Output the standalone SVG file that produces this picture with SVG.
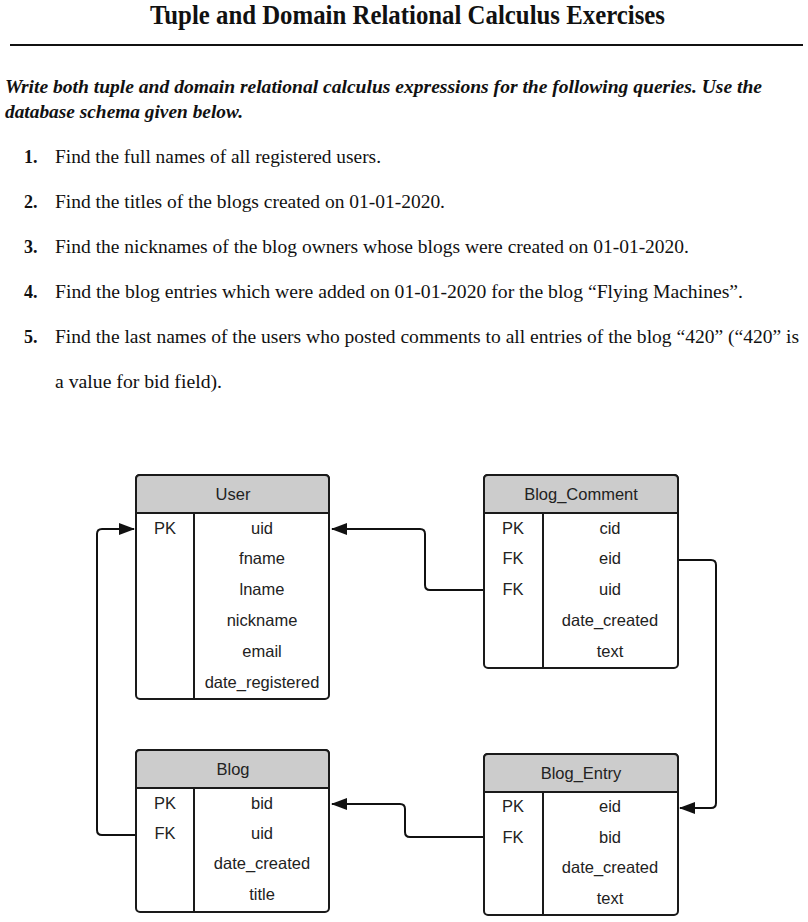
<svg xmlns="http://www.w3.org/2000/svg" width="808" height="922" viewBox="0 0 808 922">
<style>
.title{font-family:"Liberation Serif","Times New Roman",serif;font-weight:bold;font-size:27px;fill:#111}
.intro{font-family:"Liberation Serif","Times New Roman",serif;font-weight:bold;font-style:italic;font-size:18px;fill:#111}
.item{font-family:"Liberation Serif","Times New Roman",serif;font-size:18px;fill:#111}
.num{font-family:"Liberation Serif","Times New Roman",serif;font-weight:bold;font-size:18px;fill:#111}
.box{fill:#fff;stroke:#1a1a1a;stroke-width:2}
.hdr{fill:#cccccc;stroke:#1a1a1a;stroke-width:2}
.ln{stroke:#1a1a1a;stroke-width:2;fill:none}
.t{font-family:"Liberation Sans",Arial,sans-serif;font-size:16.5px;fill:#222;text-anchor:middle}
.conn{fill:none;stroke:#111;stroke-width:2}
</style>
<defs>
<marker id="arr" markerUnits="userSpaceOnUse" markerWidth="16" markerHeight="12" refX="15" refY="6" orient="auto">
<path d="M0,0 L16,6 L0,12 z" fill="#111"/>
</marker>
</defs>
<rect width="808" height="922" fill="#fff"/>
<text class="title" x="150" y="24" textLength="515" lengthAdjust="spacingAndGlyphs">Tuple and Domain Relational Calculus Exercises</text>
<line x1="10" y1="45" x2="803" y2="45" stroke="#111" stroke-width="2"/>
<text class="intro" x="5" y="93" textLength="757" lengthAdjust="spacingAndGlyphs">Write both tuple and domain relational calculus expressions for the following queries. Use the</text>
<text class="intro" x="5" y="118" textLength="238" lengthAdjust="spacingAndGlyphs">database schema given below.</text>
<text class="num" x="24" y="163">1.</text>
<text class="item" x="55" y="163" textLength="326" lengthAdjust="spacingAndGlyphs">Find the full names of all registered users.</text>
<text class="num" x="24" y="208">2.</text>
<text class="item" x="55" y="208" textLength="390" lengthAdjust="spacingAndGlyphs">Find the titles of the blogs created on 01-01-2020.</text>
<text class="num" x="24" y="253">3.</text>
<text class="item" x="55" y="253" textLength="634" lengthAdjust="spacingAndGlyphs">Find the nicknames of the blog owners whose blogs were created on 01-01-2020.</text>
<text class="num" x="24" y="298">4.</text>
<text class="item" x="55" y="298" textLength="688" lengthAdjust="spacingAndGlyphs">Find the blog entries which were added on 01-01-2020 for the blog “Flying Machines”.</text>
<text class="num" x="24" y="343">5.</text>
<text class="item" x="55" y="343" textLength="744" lengthAdjust="spacingAndGlyphs">Find the last names of the users who posted comments to all entries of the blog “420” (“420” is</text>
<text class="item" x="55" y="388" textLength="167" lengthAdjust="spacingAndGlyphs">a value for bid field).</text>

<g id="connectors">
<path class="conn" d="M136,835 H102 Q97,835 97,830 V534 Q97,529 102,529 H134" marker-end="url(#arr)"/>
<path class="conn" d="M484,590 H430 Q425,590 425,585 V534 Q425,529 420,529 H332" marker-end="url(#arr)"/>
<path class="conn" d="M678,560 H711 Q716,560 716,565 V803 Q716,808 711,808 H680" marker-end="url(#arr)"/>
<path class="conn" d="M484,837 H410 Q405,837 405,832 V809 Q405,804 400,804 H332" marker-end="url(#arr)"/>
</g>

<g id="user">
<rect class="box" x="136" y="475" width="193" height="224" rx="4"/>
<path class="hdr" d="M136,513 V479 Q136,475 140,475 H325 Q329,475 329,479 V513 Z"/>
<line class="ln" x1="194" y1="513" x2="194" y2="699"/>
<text class="t" x="233" y="500">User</text>
<text class="t" x="165" y="534">PK</text>
<text class="t" x="262" y="534">uid</text>
<text class="t" x="262" y="564">fname</text>
<text class="t" x="262" y="595">lname</text>
<text class="t" x="262" y="626">nickname</text>
<text class="t" x="262" y="657">email</text>
<text class="t" x="262" y="688">date_registered</text>
</g>

<g id="blog_comment">
<rect class="box" x="484" y="475" width="194" height="193" rx="4"/>
<path class="hdr" d="M484,513 V479 Q484,475 488,475 H674 Q678,475 678,479 V513 Z"/>
<line class="ln" x1="543" y1="513" x2="543" y2="668"/>
<text class="t" x="581" y="500">Blog_Comment</text>
<text class="t" x="513" y="534">PK</text>
<text class="t" x="513" y="564">FK</text>
<text class="t" x="513" y="595">FK</text>
<text class="t" x="610" y="534">cid</text>
<text class="t" x="610" y="564">eid</text>
<text class="t" x="610" y="595">uid</text>
<text class="t" x="610" y="626">date_created</text>
<text class="t" x="610" y="657">text</text>
</g>

<g id="blog">
<rect class="box" x="136" y="750" width="193" height="162" rx="4"/>
<path class="hdr" d="M136,788 V754 Q136,750 140,750 H325 Q329,750 329,754 V788 Z"/>
<line class="ln" x1="194" y1="788" x2="194" y2="912"/>
<text class="t" x="233" y="775">Blog</text>
<text class="t" x="165" y="809">PK</text>
<text class="t" x="165" y="839">FK</text>
<text class="t" x="262" y="809">bid</text>
<text class="t" x="262" y="839">uid</text>
<text class="t" x="262" y="869">date_created</text>
<text class="t" x="262" y="900">title</text>
</g>

<g id="blog_entry">
<rect class="box" x="484" y="754" width="194" height="161" rx="4"/>
<path class="hdr" d="M484,792 V758 Q484,754 488,754 H674 Q678,754 678,758 V792 Z"/>
<line class="ln" x1="543" y1="792" x2="543" y2="915"/>
<text class="t" x="581" y="779">Blog_Entry</text>
<text class="t" x="513" y="812">PK</text>
<text class="t" x="513" y="843">FK</text>
<text class="t" x="610" y="812">eid</text>
<text class="t" x="610" y="843">bid</text>
<text class="t" x="610" y="873">date_created</text>
<text class="t" x="610" y="904">text</text>
</g>
</svg>
